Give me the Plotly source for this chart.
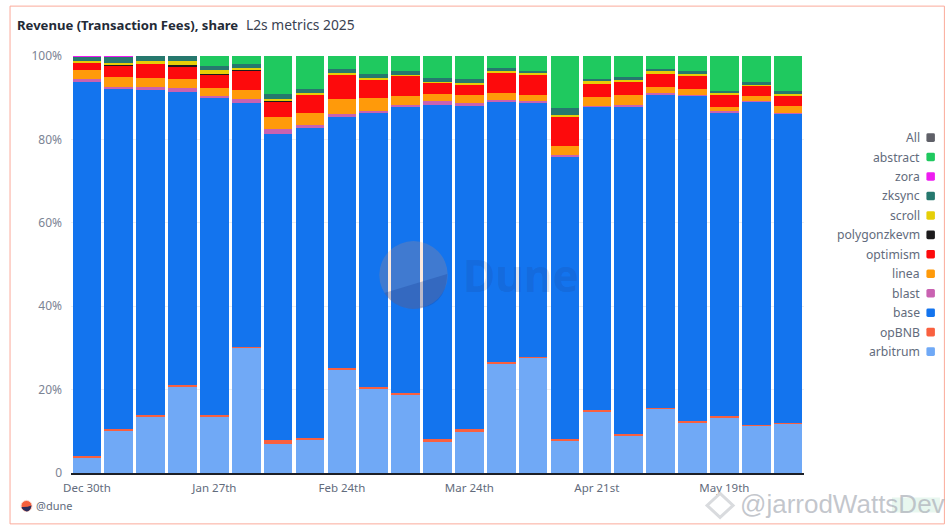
import plotly.graph_objects as go

weeks = ["Dec 30th","Jan 6th","Jan 13th","Jan 20th","Jan 27th","Feb 3rd","Feb 10th","Feb 17th","Feb 24th","Mar 3rd","Mar 10th","Mar 17th",
         "Mar 24th","Mar 31st","Apr 7th","Apr 14th","Apr 21st","Apr 28th","May 5th","May 12th","May 19th","May 26th","Jun 2nd"]
tick_labels = ["Dec 30th","Jan 27th","Feb 24th","Mar 24th","Apr 21st","May 19th"]
y_ticks = [0,20,40,60,80,100]
y_labels = ["0","20%","40%","60%","80%","100%"]

arbitrum = [3.6,10.2,13.6,20.7,13.6,30,7,7.9,24.9,20.2,18.9,7.5,9.8,26.3,27.6,7.6,14.7,8.9,15.5,12.2,13.3,11.3,11.8]
opbnb = [.5,.4,.4,.4,.4,.3,.8,.6,.4,.4,.3,.7,.7,.4,.3,.5,.4,.5,.2,.2,.3,.2,.2]
base = [89.75,81.4,77.95,70.3,75.95,58.5,73.45,74.35,60.1,65.8,68.6,79.95,77.6,62.4,60.9,67.8,72.7,78.55,75.05,78.05,72.9,77.5,74.15]
blast = [.55,.5,.5,.9,.55,.95,1.35,.6,.8,.5,.5,1.1,.6,.4,.3,.45,.15,.4,.3,.25,.25,.3,.3]
linea = [2.2,2.5,2.3,2.2,1.75,2.1,2.85,2.95,3.6,3,2,1.65,1.9,1.65,1.6,2.1,2.15,2.4,1.5,1.35,1.1,1.05,1.5]
optimism = [1.9,2.7,3.4,3.1,3.4,4.7,3.75,4.3,5.65,4.45,4.95,2.65,2.55,4.95,4.95,7,3.35,3.2,3.35,3.2,2.8,2.65,2.65]
polygonzkevm = [.03,.08,.1,.2,.05,.05,.03,0,0,0,0,0,0,0,0,0,.05,0,0,0,0,0,0]
scroll = [.37,.52,.45,1.0,.9,.6,.57,.4,.4,.4,.3,.3,.4,.4,.3,.4,.45,.4,.45,.4,.4,.15,.25]
zksync = [1.0,1.6,1.3,1.2,1,.9,1.1,1.1,.95,1.05,.95,.95,1.05,.7,.55,1.75,.65,.65,.65,.7,.65,.7,.7]
zora = [.1,.1,0,0,0,0,.1,0,0,0,0,0,0,0,0,0,0,0,0,0,0,0,0]
abstract = [0,0,0,0,2.4,1.9,9,7.8,3.2,4.2,3.5,5.2,5.4,2.7,3.5,12.4,5.4,5.2,3,3.65,8.3,6.15,8.45]

# bottom to top in the stack
series = [("arbitrum",arbitrum,"#70a9f6"),("opBNB",opbnb,"#f9603f"),("base",base,"#1374ee"),("blast",blast,"#c962b1"),
          ("linea",linea,"#ff9a0a"),("optimism",optimism,"#fd0a0c"),("polygonzkevm",polygonzkevm,"#1c1a1c"),
          ("scroll",scroll,"#e6cf07"),("zksync",zksync,"#26786e"),("zora",zora,"#ee1cf0"),("abstract",abstract,"#1fc95f")]
legend_rows = [("All","#5f6068")] + [(n,c) for n,_,c in reversed(series)]

W, H = 951, 530
L, R, T, B = 70.5, 804, 55.5, 473.5

fig = go.Figure()
for name, vals, color in series:
    fig.add_bar(x=weeks, y=vals, name=name, marker=dict(color=color, line=dict(width=0)), showlegend=False)

def px(x): return (x - L) / (R - L)
def py(y): return (B - y) / (B - T)

shapes = [dict(type="rect", xref="paper", yref="paper", x0=px(9.5), x1=px(944.5), y0=py(5.5), y1=py(524.5),
               line=dict(color="#fbaa9a", width=1), fillcolor="rgba(0,0,0,0)", layer="below")]
annotations = []

# legend on the right, text left of swatch
row_y0, row_step = 137.3, 19.5
for i, (name, color) in enumerate(legend_rows):
    yc = row_y0 + i * row_step
    x0, x1, y0, y1 = 926.5, 935, yc - 4.3, yc + 4.3
    r = 1.5
    path = (f"M {px(x0+r)} {py(y0)} L {px(x1-r)} {py(y0)} Q {px(x1)} {py(y0)} {px(x1)} {py(y0+r)} "
            f"L {px(x1)} {py(y1-r)} Q {px(x1)} {py(y1)} {px(x1-r)} {py(y1)} L {px(x0+r)} {py(y1)} "
            f"Q {px(x0)} {py(y1)} {px(x0)} {py(y1-r)} L {px(x0)} {py(y0+r)} Q {px(x0)} {py(y0)} {px(x0+r)} {py(y0)} Z")
    shapes.append(dict(type="path", xref="paper", yref="paper", path=path, fillcolor=color, line=dict(width=0)))
    annotations.append(dict(xref="paper", yref="paper", x=px(922), y=py(yc), text=name, showarrow=False,
                            xanchor="right", yanchor="middle", font=dict(size=12.2, color="#626b7c")))

# titles
annotations.append(dict(xref="paper", yref="paper", x=px(14), y=py(24), text="<b>Revenue (Transaction Fees), share</b>",
                        showarrow=False, xanchor="left", yanchor="middle", font=dict(size=13.1, color="#232a36")))
annotations.append(dict(xref="paper", yref="paper", x=px(244), y=py(24), text="L2s metrics 2025",
                        showarrow=False, xanchor="left", yanchor="middle", font=dict(size=13.8, color="#3a4252")))

# Dune watermark
annotations.append(dict(xref="paper", yref="paper", x=px(461), y=py(275), text="<b>Dune</b>", showarrow=False, xanchor="left",
                        yanchor="middle", font=dict(size=44, color="rgba(30,50,110,0.15)")))
shapes.append(dict(type="circle", xref="paper", yref="paper", x0=px(379), x1=px(447.5), y0=py(241), y1=py(309),
                   fillcolor="rgba(244,150,90,0.2)", line=dict(width=0)))
shapes.append(dict(type="path", xref="paper", yref="paper",
                   path=f"M {px(384)} {py(293)} L {px(447)} {py(274)} Q {px(446)} {py(308)} {px(413)} {py(309)} Q {px(394)} {py(308)} {px(384)} {py(293)} Z",
                   fillcolor="rgba(20,60,150,0.28)", line=dict(width=0)))

# footer
annotations.append(dict(xref="paper", yref="paper", x=px(33), y=py(506.5), text="@dune", showarrow=False, xanchor="left",
                        yanchor="middle", font=dict(size=11, color="#626b7c")))
shapes.append(dict(type="circle", xref="paper", yref="paper", x0=px(20.5), x1=px(31.5), y0=py(501), y1=py(512),
                   fillcolor="#f4603e", line=dict(color="#fbd5cc", width=1)))
shapes.append(dict(type="path", xref="paper", yref="paper",
                   path=f"M {px(21)} {py(507.5)} Q {px(26)} {py(508)} {px(31)} {py(506)} Q {px(30)} {py(512)} {px(26)} {py(512)} Q {px(22)} {py(511.5)} {px(21)} {py(507.5)} Z",
                   fillcolor="#2b2d5c", line=dict(width=0)))
# overlaid credit
shapes.append(dict(type="rect", xref="paper", yref="paper", x0=px(892), x1=px(940), y0=py(498), y1=py(513),
                   fillcolor="#e8f7ef", line=dict(width=0), layer="below"))
shapes.append(dict(type="path", xref="paper", yref="paper",
                   path=f"M {px(720)} {py(494)} L {px(733)} {py(506)} L {px(720)} {py(518)} L {px(707)} {py(506)} Z",
                   fillcolor="rgba(0,0,0,0)", line=dict(color="#d9dbde", width=3)))
annotations.append(dict(xref="paper", yref="paper", x=px(947), y=py(505), text="@jarrodWattsDev", showarrow=False, xanchor="right",
                        yanchor="middle", font=dict(family="Liberation Sans", size=26, color="rgba(175,180,188,0.75)")))

fig.update_layout(
    width=W, height=H, autosize=False, barmode="stack", bargap=0.1,
    paper_bgcolor="white", plot_bgcolor="white",
    font=dict(family="Noto Sans", size=12, color="#626b7c"),
    margin=dict(l=L, r=W - R, t=T, b=H - B, pad=0),
    shapes=shapes, annotations=annotations,
    xaxis=dict(type="category", categoryorder="array", categoryarray=weeks, tickmode="array", tickvals=tick_labels, ticktext=tick_labels,
               showgrid=False, showline=True, linecolor="#1c1f26", linewidth=1.5, ticks="", ticklabelstandoff=3,
               tickfont=dict(size=11.5, color="#626b7c")),
    yaxis=dict(range=[0,100], tickmode="array", tickvals=y_ticks, ticktext=y_labels, showgrid=True, gridcolor="#eceef1", gridwidth=1,
               zeroline=False, showline=False, ticks="", tickfont=dict(size=12, color="#7b8494"), ticklabelstandoff=8),
)
fig.write_html("out.html", config=dict(displayModeBar=False),
               post_script="document.body.style.margin='0';document.body.style.overflow='hidden';")
